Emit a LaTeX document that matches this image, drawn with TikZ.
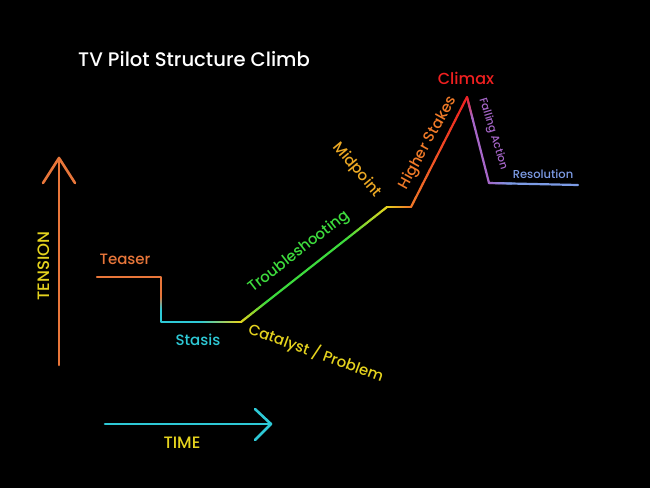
\documentclass[tikz,border=0pt]{standalone}
\usepackage{fontspec}
\setmainfont{Poppins}[UprightFont=* Medium]
\usetikzlibrary{calc}
\definecolor{corange}{HTML}{E8763A}
\definecolor{ccyan}{HTML}{2EC9D6}
\definecolor{cyellow}{HTML}{E5D31E}
\definecolor{cgreen}{HTML}{3DDB3D}
\definecolor{corange2}{HTML}{F07A28}
\definecolor{cmid}{HTML}{EBA824}
\definecolor{cred}{HTML}{F02020}
\definecolor{cpurple}{HTML}{A666C8}
\definecolor{cblue}{HTML}{7C9BE5}
\newcommand\gline[4]{%
  \foreach \k in {1,...,24}{%
    \pgfmathsetmacro\pa{(\k-1)/24}%
    \pgfmathsetmacro\pb{\k/24}%
    \pgfmathtruncatemacro\pc{100-(\k-0.5)*100/24}%
    \draw[ln,color=#3!\pc!#4] ($(#1)!\pa!(#2)$) -- ($(#1)!\pb!(#2)$);
  }}
\begin{document}
\begin{tikzpicture}[x=1pt,y=-1pt,
  ln/.style={line width=2.2pt,line cap=round,line join=round},
  axis/.style={line width=2.6pt,line cap=round,line join=round},
  lbl/.style={font=\fontsize{15}{15}\selectfont,inner sep=0pt}]
\useasboundingbox[fill=black] (0,0) rectangle (650,488);
% title
\node[lbl,white,font=\fontsize{19.6}{19}\selectfont,anchor=base west] (title) at (78,66) {TV Pilot Structure Climb};
% axes
\coordinate (va0) at (59,365);
\coordinate (va1) at (59,158);
\coordinate (vw1) at (43,183);
\coordinate (vw2) at (75,183);
\draw[axis,corange] (va0) -- (va1);
\draw[axis,corange] (vw1) -- (va1) -- (vw2);
\coordinate (ha0) at (105,424);
\coordinate (ha1) at (271,424);
\coordinate (hw1) at (255,409);
\coordinate (hw2) at (255,440);
\draw[axis,ccyan] (ha0) -- (ha1);
\draw[axis,ccyan] (hw1) -- (ha1) -- (hw2);
\node[lbl,cyellow,rotate=90,font=\fontsize{16.5}{16}\selectfont] (tension) at (44,266) {TENSION};
\node[lbl,cyellow,font=\fontsize{16.5}{16}\selectfont] (time) at (182,443) {TIME};
% curve points
\coordinate (t0) at (97,277);
\coordinate (t1) at (161,277);
\coordinate (s0) at (161,322);
\coordinate (s1) at (241,322);
\coordinate (d1) at (387,207);
\coordinate (d2) at (411,207);
\coordinate (pk) at (467,97);
\coordinate (fa) at (489,183);
\coordinate (re) at (578,185);
\coordinate (sm) at ($(s0)!0.5!(s1)$);
\coordinate (vm1) at ($(t1)!0.45!(s0)$);
\coordinate (vm2) at ($(t1)!0.75!(s0)$);
\coordinate (dA) at ($(s1)!0.18!(d1)$);
\coordinate (dB) at ($(s1)!0.72!(d1)$);
\coordinate (fm) at ($(pk)!0.25!(fa)$);
\coordinate (rm) at ($(fa)!0.25!(re)$);
\draw[ln,corange] (t0) -- (t1) -- (vm1);
\gline{vm1}{vm2}{corange}{ccyan}
\draw[ln,ccyan] (vm2) -- (s0) -- (sm);
\gline{sm}{s1}{ccyan}{cyellow}
\gline{s1}{dA}{cyellow}{cgreen}
\draw[ln,cgreen] (dA) -- (dB);
\gline{dB}{d1}{cgreen}{cyellow}
\gline{d1}{d2}{cyellow}{corange2}
\gline{d2}{pk}{corange2}{cred}
\gline{pk}{fm}{cred}{cpurple}
\draw[ln,cpurple] (fm) -- (fa);
\gline{fa}{rm}{cpurple}{cblue}
\draw[ln,cblue] (rm) -- (re);
% labels
\node[lbl,corange] (teaser) at (125,259) {Teaser};
\node[lbl,ccyan] (stasis) at (198,340) {Stasis};
\node[lbl,cyellow,rotate=-20] (catalyst) at (316,353) {Catalyst / Problem};
\node[lbl,cgreen,rotate=38] (trouble) at (299,252) {Troubleshooting};
\node[lbl,cmid,rotate=-50] (mid) at (357,170) {Midpoint};
\node[lbl,corange2,rotate=61] (higher) at (428,143) {Higher Stakes};
\node[lbl,cred,font=\fontsize{16}{16}\selectfont] (climax) at (466,78) {Climax};
\node[lbl,cpurple,rotate=-73,font=\fontsize{11}{11}\selectfont] (falling) at (493,134) {Falling Action};
\node[lbl,cblue,font=\fontsize{11.5}{11.5}\selectfont] (resol) at (543,174) {Resolution};
\end{tikzpicture}
\end{document}
